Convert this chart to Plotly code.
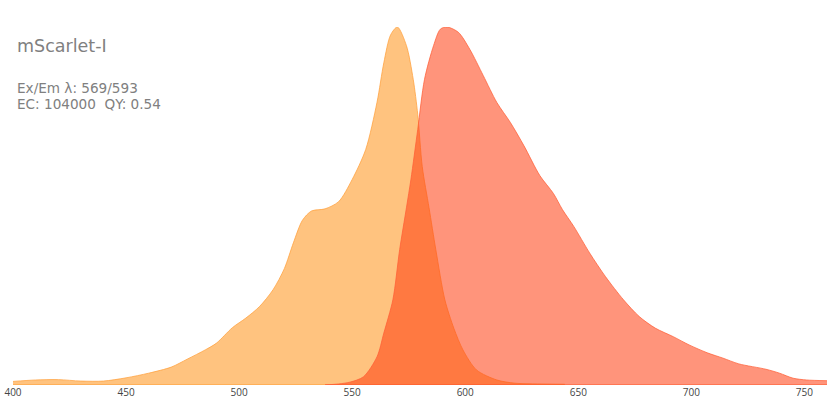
import plotly.graph_objects as go

# mScarlet-I spectra, normalised
ex_wavelength = [400, 410, 420, 430, 440, 450, 460, 470, 477, 485, 490, 497, 503, 509,
                 515, 520, 524, 528, 532, 538, 544, 550, 556, 561, 564, 567, 570, 574,
                 577, 579, 581, 584, 587, 591, 595, 599, 605, 614, 622, 632, 644]
ex_values = [0.010, 0.014, 0.015, 0.011, 0.011, 0.020, 0.033, 0.050, 0.072, 0.098, 0.117,
             0.160, 0.187, 0.219, 0.266, 0.325, 0.397, 0.460, 0.486, 0.492, 0.512, 0.574,
             0.658, 0.790, 0.900, 0.978, 1.000, 0.948, 0.854, 0.756, 0.610, 0.495, 0.378,
             0.238, 0.158, 0.098, 0.042, 0.014, 0.005, 0.003, 0.002]

em_wavelength = [538, 544, 549, 555, 561, 564, 568, 571, 574, 576, 579, 582, 586, 589,
                 592, 597, 602, 608, 614, 620, 626, 633, 639, 643, 648, 655, 662, 670,
                 677, 684, 692, 699, 707, 714, 721, 733, 739, 745, 751, 760]
em_values = [0.000, 0.003, 0.008, 0.023, 0.079, 0.145, 0.238, 0.378, 0.495, 0.575, 0.714,
             0.854, 0.948, 0.994, 1.000, 0.985, 0.938, 0.864, 0.789, 0.733, 0.668, 0.585,
             0.535, 0.490, 0.443, 0.369, 0.303, 0.238, 0.191, 0.159, 0.135, 0.112, 0.090,
             0.075, 0.059, 0.044, 0.033, 0.019, 0.014, 0.012]

name = "mScarlet-I"
ex_max, em_max = 569, 593
ec, qy = 104000, 0.54

x_ticks = [400, 450, 500, 550, 600, 650, 700, 750]

fig = go.Figure()

for wl, vals, fillc, linec in [
    (ex_wavelength, ex_values, "rgba(255,135,0,0.5)", "rgba(255,160,60,0.75)"),
    (em_wavelength, em_values, "rgba(255,60,15,0.55)", "rgba(255,95,55,0.75)"),
]:
    fig.add_trace(go.Scatter(
        x=wl, y=vals, mode="lines", fill="tozeroy", fillcolor=fillc,
        line=dict(color=linec, width=1, shape="spline", smoothing=0.8),
        hoverinfo="skip", showlegend=False,
    ))
    # outline along the bottom edge of the filled area
    fig.add_trace(go.Scatter(
        x=[wl[0], wl[-1]], y=[0, 0], mode="lines",
        line=dict(color=linec, width=1.5),
        hoverinfo="skip", showlegend=False,
    ))

info_lines = [f"Ex/Em \u03bb: {ex_max}/{em_max}", f"EC: {ec} \u00a0QY: {qy}"]

fig.add_annotation(
    text=name, xref="paper", yref="paper", x=0.003, y=0.947,
    xanchor="left", yanchor="middle", showarrow=False,
    font=dict(family="DejaVu Sans", size=17.5, color="#808080"),
)
for line, ypos in zip(info_lines, [0.830, 0.785]):
    fig.add_annotation(
        text=line, xref="paper", yref="paper", x=0.003, y=ypos,
        xanchor="left", yanchor="middle", align="left", showarrow=False,
        font=dict(family="DejaVu Sans", size=13.6, color="#808080"),
    )

fig.update_layout(
    width=840, height=420, autosize=False,
    margin=dict(l=13, r=13, t=27, b=35),
    paper_bgcolor="white", plot_bgcolor="white",
    xaxis=dict(
        range=[400, 760], tickvals=x_ticks, showgrid=False, zeroline=False,
        showline=False, ticks="", automargin=False,
        tickfont=dict(family="Open Sans", size=10, color="#444"),
    ),
    yaxis=dict(range=[0, 1.0], visible=False, showgrid=False, zeroline=False,
               automargin=False),
)

# drop the browser's default body margin so the figure fills the window
fig.write_html("out.html", config={"displayModeBar": False},
               post_script="document.body.style.margin='0';")
